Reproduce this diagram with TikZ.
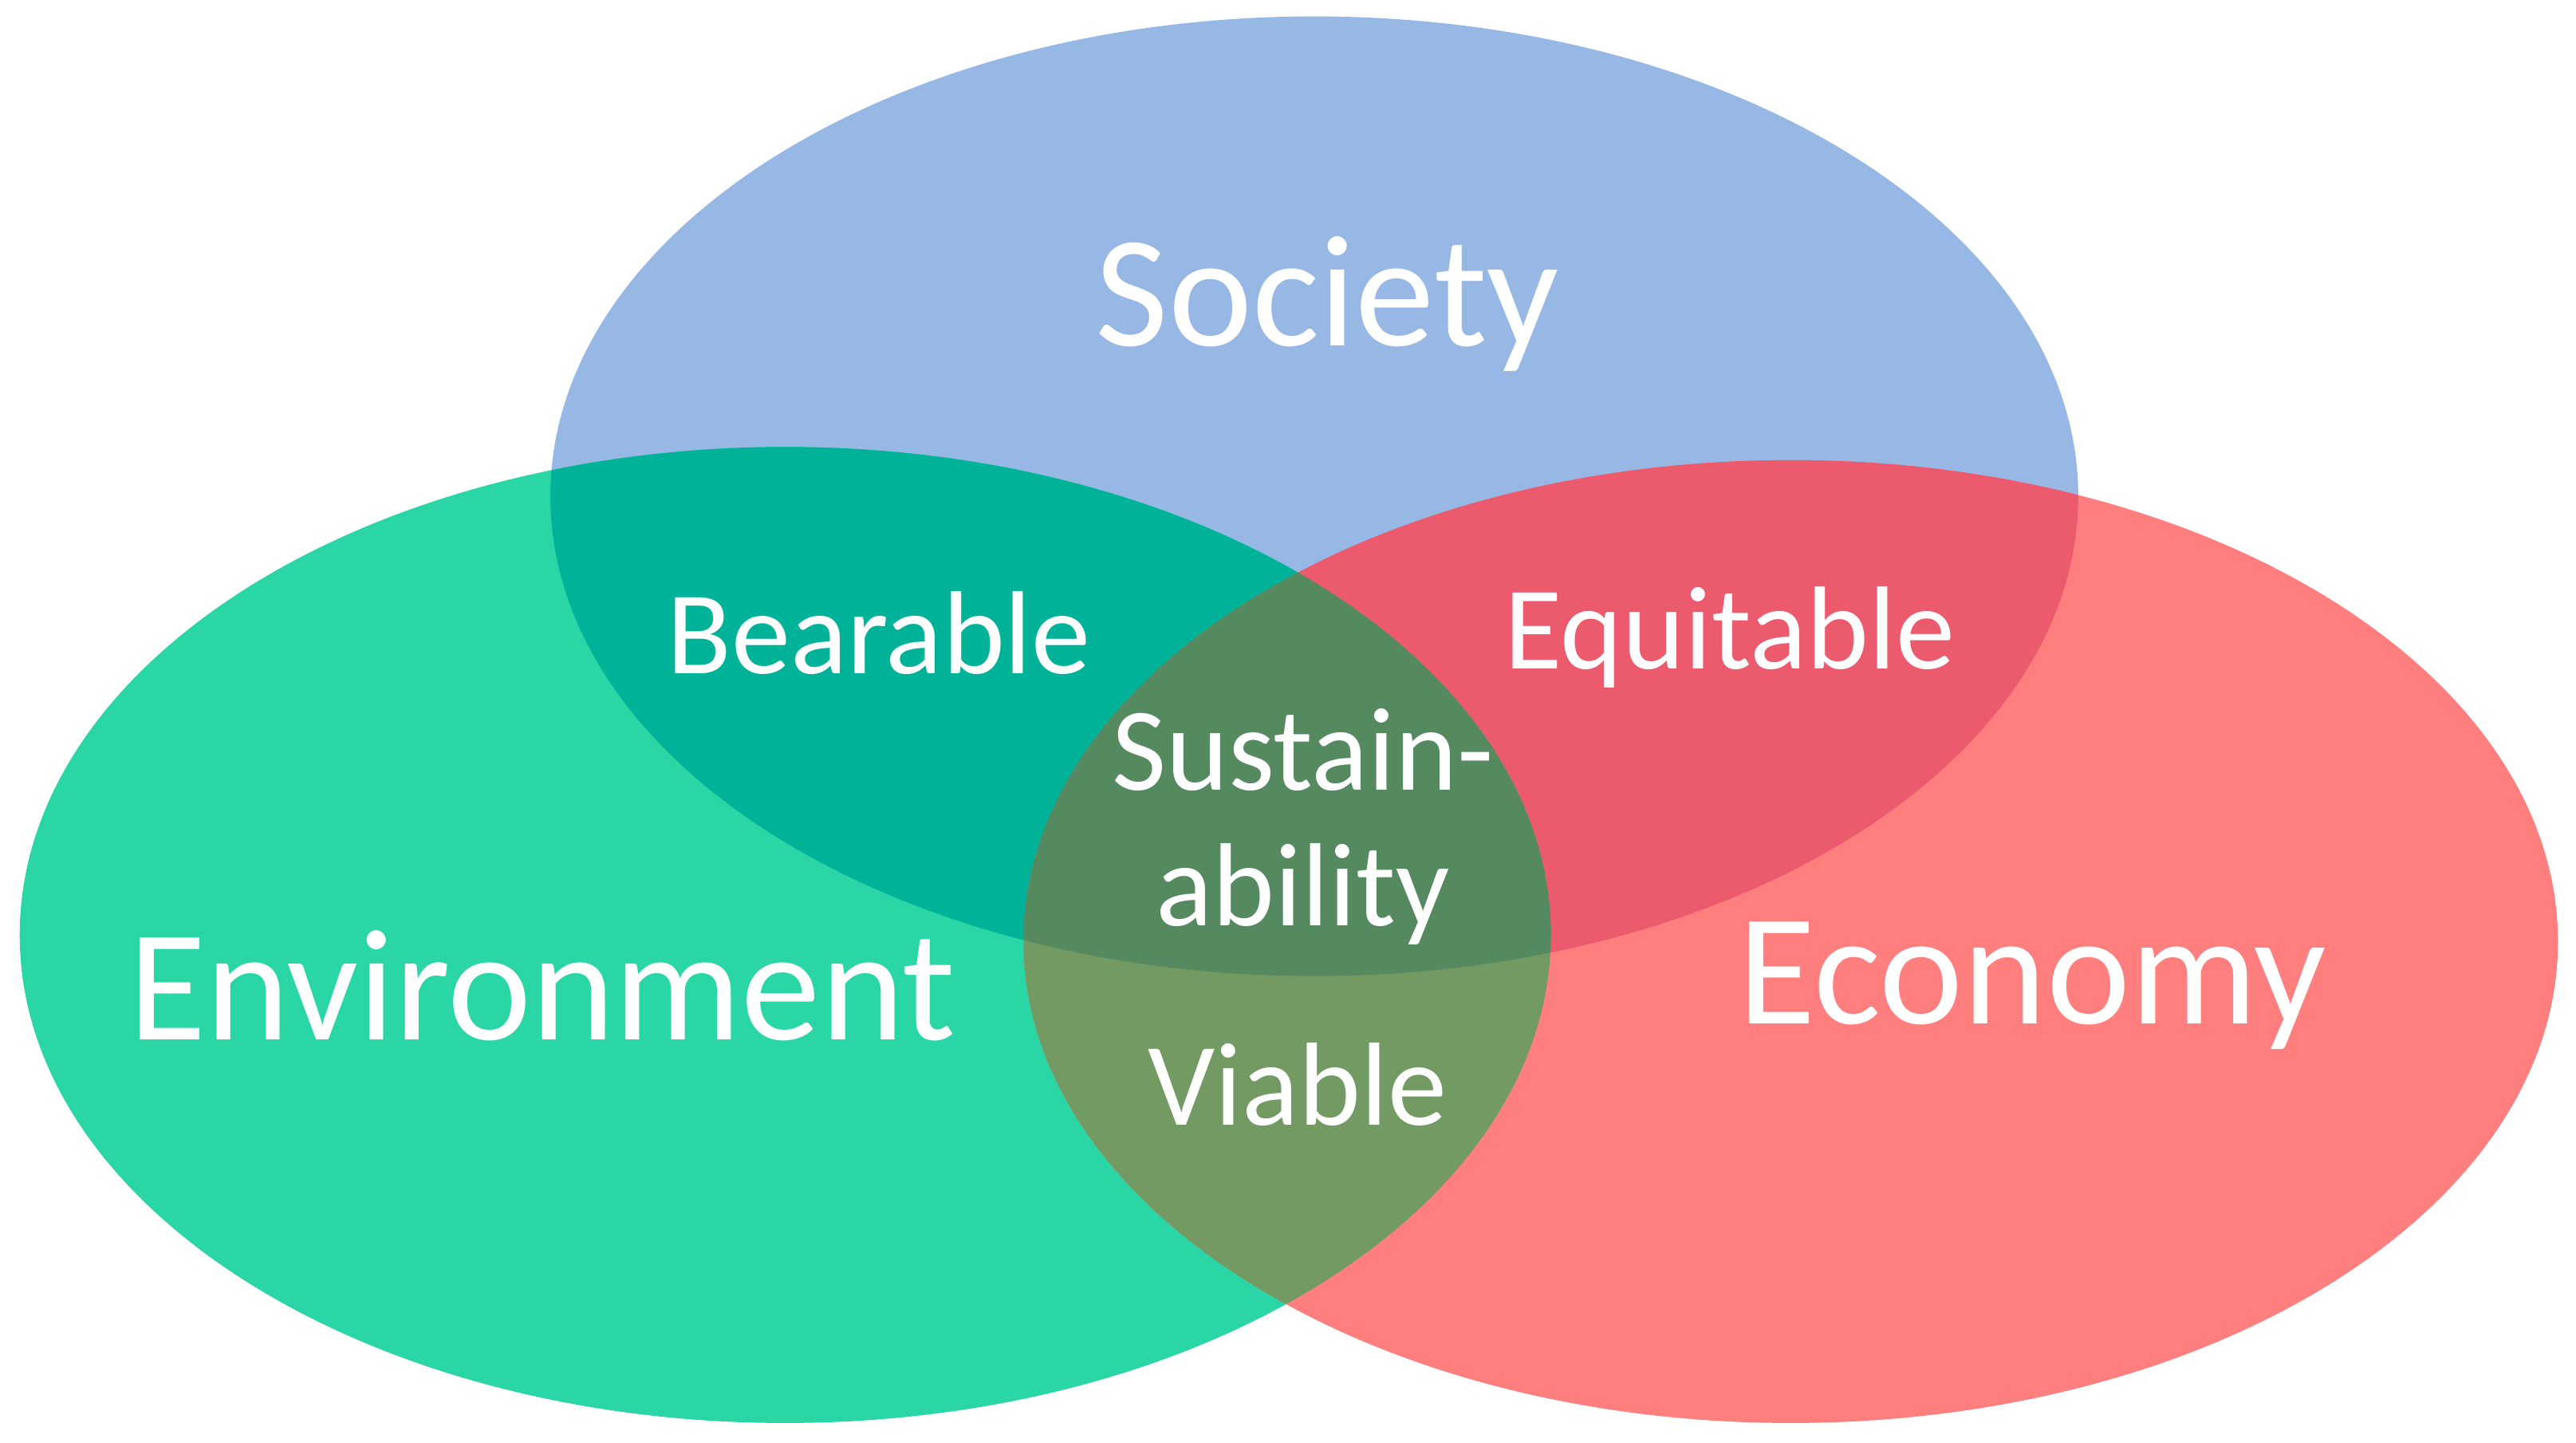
\documentclass[tikz,border=0pt]{standalone}
\usepackage{fontspec}
\setmainfont{Carlito}
\definecolor{soc}{HTML}{97B8E4}
\definecolor{env}{HTML}{2AD6A5}
\definecolor{eco}{HTML}{FF7F7F}
\definecolor{se}{HTML}{00B398}
\definecolor{sc}{HTML}{EC5A6E}
\definecolor{ec}{HTML}{729A62}
\definecolor{all}{HTML}{558960}
\tikzset{lbl/.style={text=white,font=\fontsize{55}{60}\selectfont},
 sml/.style={text=white,font=\fontsize{41}{47}\selectfont,align=center}}
\begin{document}
\begin{tikzpicture}[x=0.02cm,y=-0.02cm]
\useasboundingbox (0,0) rectangle (1568,878);
\def\Soc{(800,302) ellipse [x radius=465,y radius=292]}
\def\Env{(478,569) ellipse [x radius=466,y radius=297]}
\def\Eco{(1090,573) ellipse [x radius=467,y radius=293]}
\fill[soc] \Soc;
\fill[env] \Env;
\fill[eco] \Eco;
\begin{scope}\clip \Soc; \fill[se] \Env; \end{scope}
\begin{scope}\clip \Soc; \fill[sc] \Eco; \end{scope}
\begin{scope}\clip \Env; \fill[ec] \Eco; \end{scope}
\begin{scope}\clip \Soc; \clip \Env; \fill[all] \Eco; \end{scope}
\node[lbl] (society) at (808,185) {Society};
\node[lbl] (environment) at (330,600) {Environment};
\node[lbl] (economy) at (1237,600) {Economy};
\node[sml] (bearable) at (535,385) {Bearable};
\node[sml] (equitable) at (1053,388) {Equitable};
\node[sml] (sust) at (793,503) {Sustain-\\ability};
\node[sml] (viable) at (790,660) {Viable};
\end{tikzpicture}
\end{document}
